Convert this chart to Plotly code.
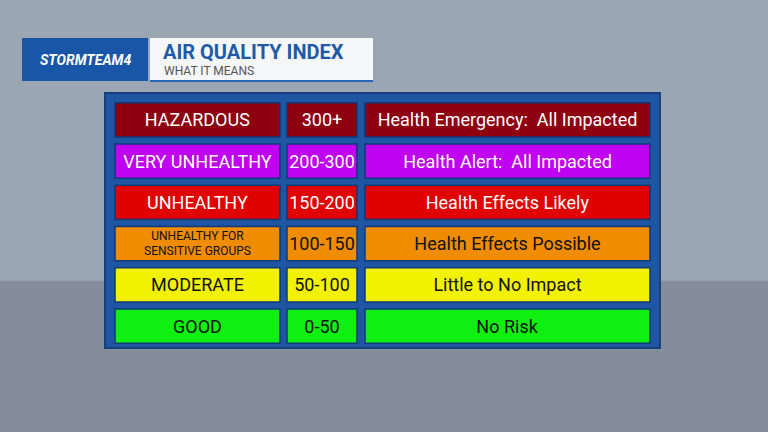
import plotly.graph_objects as go

categories = ["HAZARDOUS", "VERY UNHEALTHY", "UNHEALTHY", "UNHEALTHY FOR<br>SENSITIVE GROUPS", "MODERATE", "GOOD"]
ranges = ["300+", "200-300", "150-200", "100-150", "50-100", "0-50"]
meanings = ["Health Emergency:  All Impacted", "Health Alert:  All Impacted", "Health Effects Likely",
            "Health Effects Possible", "Little to No Impact", "No Risk"]
colors = ["#8e0010", "#c000f0", "#e00000", "#f08c00", "#f2f200", "#10f010"]
text_colors = ["white", "white", "white", "#111", "#111", "#111"]
label_sizes = [18, 18, 18, 12, 18, 18]

cols = [(115, 165, categories), (287, 70, ranges), (365, 285, meanings)]
ypos = list(range(len(categories)))

fig = go.Figure()
for start, width, texts in cols:
    fig.add_trace(go.Bar(
        orientation="h", y=ypos, x=[width] * len(ypos), base=[start] * len(ypos),
        width=0.83, text=texts, textposition="inside", insidetextanchor="middle",
        textangle=0, constraintext="none",
        textfont=dict(family="Roboto", color=text_colors,
                      size=label_sizes if texts is categories else 18),
        marker=dict(color=colors, line=dict(color="#0e3a7a", width=1.5)),
        hoverinfo="skip", showlegend=False))

shapes = [
    dict(type="rect", xref="paper", yref="paper", x0=0, x1=1, y0=0, y1=0.35,
         fillcolor="rgba(110,118,130,0.5)", line=dict(width=0), layer="below"),
    dict(type="rect", xref="x", yref="paper", x0=105, x1=660, y0=1 - 348 / 432, y1=1 - 93 / 432,
         fillcolor="#1f56a3", line=dict(color="#163f7c", width=2), layer="below"),
    dict(type="rect", xref="x", yref="paper", x0=22, x1=148, y0=1 - 81 / 432, y1=1 - 38 / 432,
         fillcolor="#1a56a8", line=dict(width=0), layer="below"),
    dict(type="rect", xref="x", yref="paper", x0=150, x1=373, y0=1 - 81 / 432, y1=1 - 38 / 432,
         fillcolor="#f4f6f8", line=dict(width=0), layer="below"),
    dict(type="line", xref="x", yref="paper", x0=150, x1=373, y0=1 - 81 / 432, y1=1 - 81 / 432,
         line=dict(color="#2a66b8", width=2)),
]
annotations = [
    dict(xref="x", yref="paper", x=85, y=1 - 60 / 432, yanchor="middle", text="<b><i>STORMTEAM4</i></b>",
         showarrow=False, font=dict(family="Roboto", size=14, color="white")),
    dict(xref="x", yref="paper", x=161, y=1 - 52 / 432, xanchor="left", yanchor="middle",
         text="<b>AIR QUALITY INDEX</b>", showarrow=False, font=dict(family="Roboto", size=20, color="#1f5aa8")),
    dict(xref="x", yref="paper", x=162, y=1 - 71 / 432, xanchor="left", yanchor="middle", text="WHAT IT MEANS",
         showarrow=False, font=dict(family="Roboto", size=12, color="#555")),
]

fig.update_layout(
    width=768, height=432, margin=dict(l=0, r=0, t=0, b=0),
    paper_bgcolor="#9ba6b3", plot_bgcolor="rgba(0,0,0,0)", barmode="overlay",
    xaxis=dict(range=[0, 768], visible=False, fixedrange=True),
    yaxis=dict(range=[7.57, -2.91], visible=False, fixedrange=True),
    shapes=shapes, annotations=annotations,
)
fig.write_html("out.html", config={"displayModeBar": False},
               post_script="document.body.style.margin='0';document.body.style.overflow='hidden';")
